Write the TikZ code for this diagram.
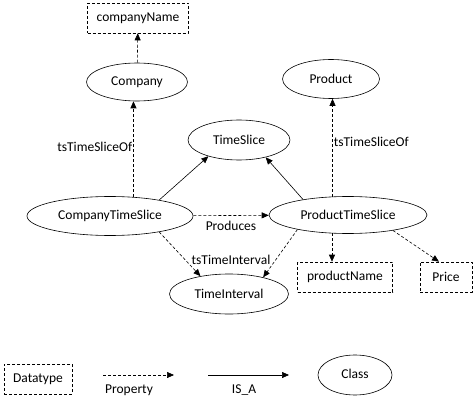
\documentclass[tikz,border=0pt]{standalone}
\usepackage{fontspec}
\setmainfont{Carlito}
\usepackage{tikz}
\usetikzlibrary{arrows.meta,positioning,shapes.geometric}
\tikzset{
  every picture/.append style={line join=round},
  onto class/.style={draw,ellipse,line width=0.6pt,inner sep=0pt},
  onto datatype/.style={draw,rectangle,line width=0.6pt,dash pattern=on 3pt off 2pt,inner sep=0pt,minimum height=30pt},
  onto property/.style={line width=0.6pt,dash pattern=on 3pt off 2pt,-{Triangle[length=7pt,width=6pt]}},
  onto isa/.style={line width=0.6pt,-{Triangle[length=7pt,width=6pt]}},
  onto note/.style={inner sep=1pt}
}

\begin{document}
\begin{tikzpicture}[x=1pt,y=-1pt,font=\fontsize{13.5}{16}\selectfont]
  \useasboundingbox (0,0) rectangle (474,401);
  % classes
  \node[onto class,minimum width=101pt,minimum height=38pt] (company) at (137,82) {Company};
  \node[onto class,minimum width=97pt,minimum height=39pt] (product) at (331,79) {Product};
  \node[onto class,minimum width=102pt,minimum height=40pt] (timeslice) at (239,140) {TimeSlice};
  \node[onto class,minimum width=166pt,minimum height=39pt] (cts) at (110,216) {CompanyTimeSlice};
  \node[onto class,minimum width=158pt,minimum height=37pt] (pts) at (348,215) {ProductTimeSlice};
  \node[onto class,minimum width=119pt,minimum height=40pt] (interval) at (229,294) {TimeInterval};
  % datatypes
  \node[onto datatype,minimum width=101pt] (companyname) at (138,18) {companyName};
  \node[onto datatype,minimum width=95pt] (productname) at (345,277) {productName};
  \node[onto datatype,minimum width=52pt] (price) at (446,277) {Price};
  % properties
  \draw[onto property] (company) -- (companyname);
  \draw[onto property] (cts.39) -- (cts.39 |- company.south)
    node[onto note,pos=0.52,left] (sliceofa) {tsTimeSliceOf};
  \draw[onto property] (pts.130) -- (pts.130 |- product.south)
    node[onto note,pos=0.56,right] (sliceofb) {tsTimeSliceOf};
  \draw[onto property] (cts) -- (pts)
    node[onto note,midway,below=4pt] (produces) {Produces};
  \draw[onto property] (cts.342) -- (interval.148);
  \draw[onto property] (pts.196) -- (interval.26);
  \node[onto note] (tsinterval) at (231,260) {tsTimeInterval};
  \draw[onto property] (pts.229) -- (pts.229 |- productname.north);
  \draw[onto property] (pts.341) -- ([xshift=-7pt]price.north);
  % is_a
  \draw[onto isa] (cts.18) -- (timeslice.208);
  \draw[onto isa] (pts.161) -- (timeslice.327);
  % legend
  \node[onto datatype,minimum width=68pt] (legdatatype) at (38,379) {Datatype};
  \coordinate (propa) at (103,375);
  \coordinate (propb) at (174,375);
  \draw[onto property] (propa) -- (propb);
  \node[onto note] (legproperty) at (129,390) {Property};
  \coordinate (isaa) at (208,375);
  \coordinate (isab) at (289,375);
  \draw[onto isa] (isaa) -- (isab);
  \node[onto note] (legisa) at (244,390) {IS\_A};
  \node[onto class,minimum width=74pt,minimum height=40pt,text depth=3pt,xshift=-5pt] (legclass) at (360,375) {Class};
\end{tikzpicture}
\end{document}
